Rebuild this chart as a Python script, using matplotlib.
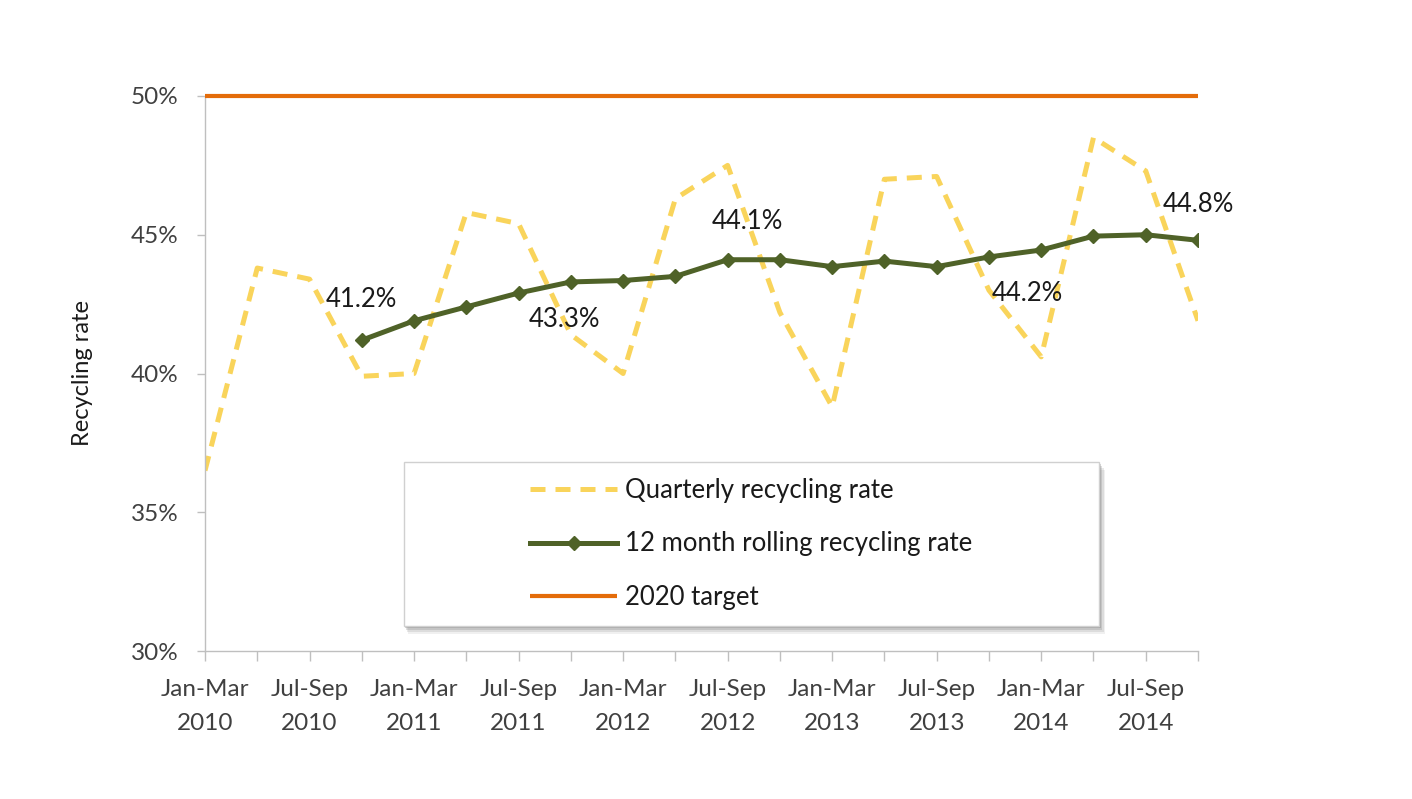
import matplotlib
matplotlib.use("Agg")
import matplotlib.pyplot as plt
from matplotlib.patches import Rectangle
import numpy as np

# ---------------- data ----------------
quarter_names = ["Jan-Mar", "Apr-Jun", "Jul-Sep", "Oct-Dec"]
years = [2010, 2011, 2012, 2013, 2014]
categories = [f"{q}\n{y}" for y in years for q in quarter_names]

quarterly_rate = [36.5, 43.8, 43.4, 39.9, 40.0, 45.8, 45.4, 41.4, 40.0, 46.3,
                  47.5, 42.2, 38.8, 47.0, 47.1, 43.0, 40.6, 48.5, 47.3, 41.9]
rolling_rate = [np.nan, np.nan, np.nan, 41.2, 41.9, 42.4, 42.9, 43.3, 43.35, 43.5,
                44.1, 44.1, 43.85, 44.05, 43.85, 44.2, 44.45, 44.95, 45.0, 44.8]
target_rate = [50.0] * len(categories)

labelled_idx = [3, 7, 10, 15, 19]
# label offsets in pixels (dx, dy)
label_offsets = [(0, 41), (-6, -38), (20, 38), (38, -37), (0, 36)]

series_names = ["Quarterly recycling rate", "12 month rolling recycling rate", "2020 target"]

# ---------------- style ----------------
plt.rcParams['font.family'] = ['Lato', 'DejaVu Sans']
W, H = 1412, 799
fig = plt.figure(figsize=(W / 100, H / 100), dpi=100)
fig.patch.set_facecolor("white")

x0, x1, y_top, y_bot = 205, 1198, 96, 651
ax = fig.add_axes([x0 / W, 1 - y_bot / H, (x1 - x0) / W, (y_bot - y_top) / H])

yellow = "#F9D45B"
green = "#4F6228"
orange = "#E46C0A"
grey_text = "#404040"
axis_grey = "#BFBFBF"

x = np.arange(len(categories))
l1, = ax.plot(x, quarterly_rate, color=yellow, lw=3.6, linestyle=(0, (3.0, 2.0)),
              dash_capstyle="butt", zorder=2, label=series_names[0])
l2, = ax.plot(x, rolling_rate, color=green, lw=3.6, marker="D", markersize=7.5,
              zorder=3, label=series_names[1])
l3, = ax.plot(x, target_rate, color=orange, lw=3.0, zorder=4, label=series_names[2],
              clip_on=False, solid_capstyle="butt")

for i, (dx, dy) in zip(labelled_idx, label_offsets):
    ax.annotate(f"{rolling_rate[i]:.1f}%", (x[i], rolling_rate[i]),
                xytext=(dx, dy), textcoords="offset pixels",
                ha="center", va="center", fontsize=18.5, color="#1a1a1a", zorder=6)

ax.set_xlim(0, len(categories) - 1)
ax.set_ylim(30, 50)
ax.set_yticks([30, 35, 40, 45, 50])
ax.set_yticklabels([f"{v}%" for v in [30, 35, 40, 45, 50]])
ax.set_xticks(x)
ax.set_xticklabels([c if i % 2 == 0 else "" for i, c in enumerate(categories)],
                   linespacing=1.75)

for s in ["top", "right"]:
    ax.spines[s].set_visible(False)
for s in ["left", "bottom"]:
    ax.spines[s].set_color(axis_grey)
    ax.spines[s].set_linewidth(1.0)

ax.tick_params(axis="x", direction="out", length=7, width=1, color=axis_grey,
               labelsize=17.5, labelcolor=grey_text, pad=13)
ax.tick_params(axis="y", direction="out", length=6, width=1, color=axis_grey,
               labelsize=17.5, labelcolor=grey_text, pad=13)

ax.set_ylabel("Recycling rate", fontsize=17, color="#1a1a1a")
ax.yaxis.set_label_coords((93 - x0) / (x1 - x0), 0.5)

# ---------------- legend box with shadow ----------------
bx0, by0, bx1, by1 = 404, 462, 1099, 626
for off, a in [(8, 0.10), (6, 0.15), (4, 0.22), (2, 0.30)]:
    fig.patches.append(Rectangle(((bx0 + off * 0.5) / W, 1 - (by1 + off) / H),
                                 (bx1 - bx0 + off * 0.3) / W, (by1 - by0) / H,
                                 transform=fig.transFigure, facecolor="#707070",
                                 edgecolor="none", alpha=a, zorder=8))
fig.patches.append(Rectangle((bx0 / W, 1 - by1 / H), (bx1 - bx0) / W, (by1 - by0) / H,
                             transform=fig.transFigure, facecolor="white",
                             edgecolor="#D0D0D0", lw=1.0, zorder=9))

leg = fig.legend(handles=[l1, l2, l3], loc="center left",
                 bbox_to_anchor=(530 / W, 1 - 544 / H), bbox_transform=fig.transFigure,
                 frameon=False, fontsize=18.5, handlelength=3.4, handletextpad=0.3,
                 labelspacing=1.12, borderpad=0, borderaxespad=0, numpoints=1)
leg.set_zorder(10)
for t in leg.get_texts():
    t.set_color("#1a1a1a")

fig.savefig("out.png", dpi=100, facecolor="white")
